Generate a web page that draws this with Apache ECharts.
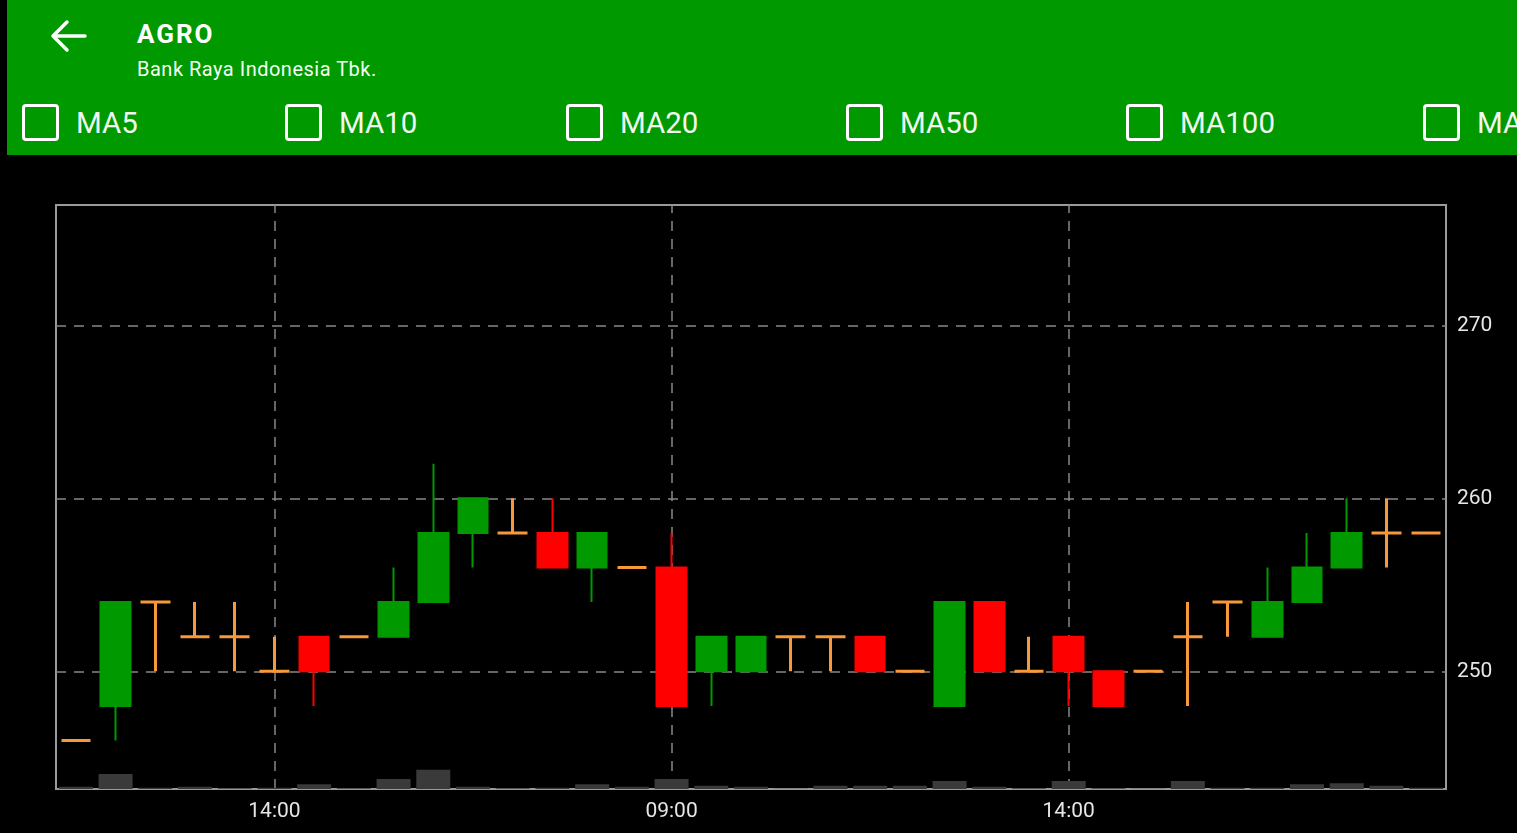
<!DOCTYPE html>
<html>
<head>
<meta charset="utf-8">
<script src="https://cdn.jsdelivr.net/npm/echarts@6/dist/echarts.min.js"></script>
<style>
  html, body { margin: 0; padding: 0; background: #000; width: 1517px; height: 833px; overflow: hidden; font-family: Roboto, "Noto Sans", sans-serif; }
  #chart { position: absolute; left: 0; top: 0; width: 1517px; height: 833px; }
  #header { position: absolute; left: 7px; top: 0; width: 1510px; height: 155px; background: #009900; overflow: hidden; }
  .title { position: absolute; left: 130px; top: 21px; font-size: 26px; line-height: 26px; font-weight: bold; letter-spacing: 2px; color: #fff; }
  .sub { position: absolute; left: 130px; top: 59px; font-size: 20px; line-height: 20px; letter-spacing: 0.5px; color: #f2fff2; }
  .cb { position: absolute; top: 104px; width: 37px; height: 37px; box-sizing: border-box; border: 3.5px solid #fff; border-radius: 4px; }
  .lbl { position: absolute; top: 108px; font-size: 29.5px; line-height: 30px; color: #f0f8f0; white-space: nowrap; }
  #back { position: absolute; left: 43px; top: 19px; }
</style>
</head>
<body>
<div id="chart"></div>
<div id="header">
  <svg id="back" width="40" height="36" viewBox="0 0 40 36">
    <path d="M3 17 L35 17 M17 3 L3 17 L17 31" stroke="#fff" stroke-width="3.5" fill="none" stroke-linecap="round" stroke-linejoin="round"/>
  </svg>
  <div class="title">AGRO</div>
  <div class="sub">Bank Raya Indonesia Tbk.</div>
  <div id="checks"></div>
</div>
<script>
// ---- data ----
const categories = ["12:30","12:45","13:00","13:15","13:30","14:00","14:15","14:30","14:45","15:00",
                    "15:15","15:30","15:45","15:50","16:00","09:00","09:15","09:30","09:45","10:00",
                    "10:15","10:30","10:45","11:00","11:15","14:00","14:15","14:30","14:45","15:00",
                    "15:15","15:30","15:45","15:50","16:00"];
const openVals  = [246,248,254,252,252,250,252,252,252,254,258,258,258,256,256,256,250,250,252,252,252,250,248,254,250,252,250,250,252,254,252,254,256,258,258];
const closeVals = [246,254,254,252,252,250,250,252,254,258,260,258,256,258,256,248,252,252,252,252,250,250,254,250,250,250,248,250,252,254,254,256,258,258,258];
const lowVals   = [246,246,250,252,250,250,248,252,252,254,256,258,256,254,256,248,248,250,250,250,250,250,248,250,250,248,248,250,248,252,252,254,256,256,258];
const highVals  = [246,254,254,254,254,252,252,252,256,262,260,260,260,258,256,258,252,252,252,252,252,250,254,254,252,252,250,250,254,254,256,258,260,260,258];
const volumes   = [230,1500,130,230,70,130,470,70,1000,1930,230,70,130,470,230,1000,330,230,30,330,330,330,800,230,70,800,70,30,800,130,130,470,570,330,130];
const priceTicks = [250, 260, 270];
const maLabels = ["MA5","MA10","MA20","MA50","MA100","MA200"];

// ---- header checkboxes ----
const cbLeft = [15, 278, 559, 839, 1119, 1416];
const checks = document.getElementById('checks');
maLabels.forEach((t, i) => {
  const b = document.createElement('div'); b.className = 'cb'; b.style.left = cbLeft[i] + 'px'; checks.appendChild(b);
  const l = document.createElement('div'); l.className = 'lbl'; l.style.left = (cbLeft[i] + 54) + 'px'; l.textContent = t; checks.appendChild(l);
});

// ---- chart ----
const UP = '#009900', DOWN = '#ff0000', DOJI = '#f7983a';
const candleData = categories.map((c, i) => {
  const o = openVals[i], cl = closeVals[i];
  const item = { value: [o, cl, lowVals[i], highVals[i]] };
  if (o === cl) {
    item.itemStyle = { color: DOJI, color0: DOJI, borderColor: DOJI, borderColor0: DOJI, borderColorDoji: DOJI, borderWidth: 3 };
  }
  return item;
});
const markIdx = categories.map((c, i) => i).filter(i => i % 10 === 5);

const chart = echarts.init(document.getElementById('chart'), null, { renderer: 'canvas' });
chart.setOption({
  backgroundColor: '#000',
  animation: false,
  grid: { left: 56, right: 71, top: 205, bottom: 44, show: true, borderColor: '#9a9a9a', borderWidth: 2, backgroundColor: 'transparent' },
  xAxis: {
    type: 'category',
    data: categories,
    boundaryGap: true,
    axisLine: { show: false },
    axisTick: { show: false },
    splitLine: { show: false },
    axisLabel: {
      interval: (idx) => idx % 10 === 5,
      color: '#e6e6e6', fontSize: 21, margin: 12, fontFamily: 'Roboto'
    }
  },
  yAxis: [{
    type: 'value',
    position: 'right',
    min: 243.2, max: 276.95,
    axisLine: { show: false },
    axisTick: { show: false, customValues: priceTicks },
    axisLabel: { customValues: priceTicks, color: '#e6e6e6', fontSize: 21, margin: 11, fontFamily: 'Roboto' },
    splitLine: { show: true, lineStyle: { color: '#888', width: 1.5, type: [10, 8] } }
  }, {
    type: 'value',
    min: 0, max: 58500,
    show: false,
    splitLine: { show: false }
  }],
  series: [{
    type: 'bar',
    name: 'Volume',
    xAxisIndex: 0, yAxisIndex: 1,
    data: volumes,
    barWidth: 34,
    itemStyle: { color: '#3a3a3a' },
    z: 1,
    markLine: {
      silent: true, symbol: 'none', z: 1,
      label: { show: false },
      lineStyle: { color: '#888', width: 1.5, type: [10, 8] },
      data: markIdx.map(i => ({ xAxis: i }))
    }
  }, {
    type: 'candlestick',
    name: 'AGRO',
    data: candleData,
    barWidth: 30,
    z: 3,
    itemStyle: { color: UP, color0: DOWN, borderColor: UP, borderColor0: DOWN, borderColorDoji: DOJI, borderWidth: 2 }
  }]
});
</script>
</body>
</html>
